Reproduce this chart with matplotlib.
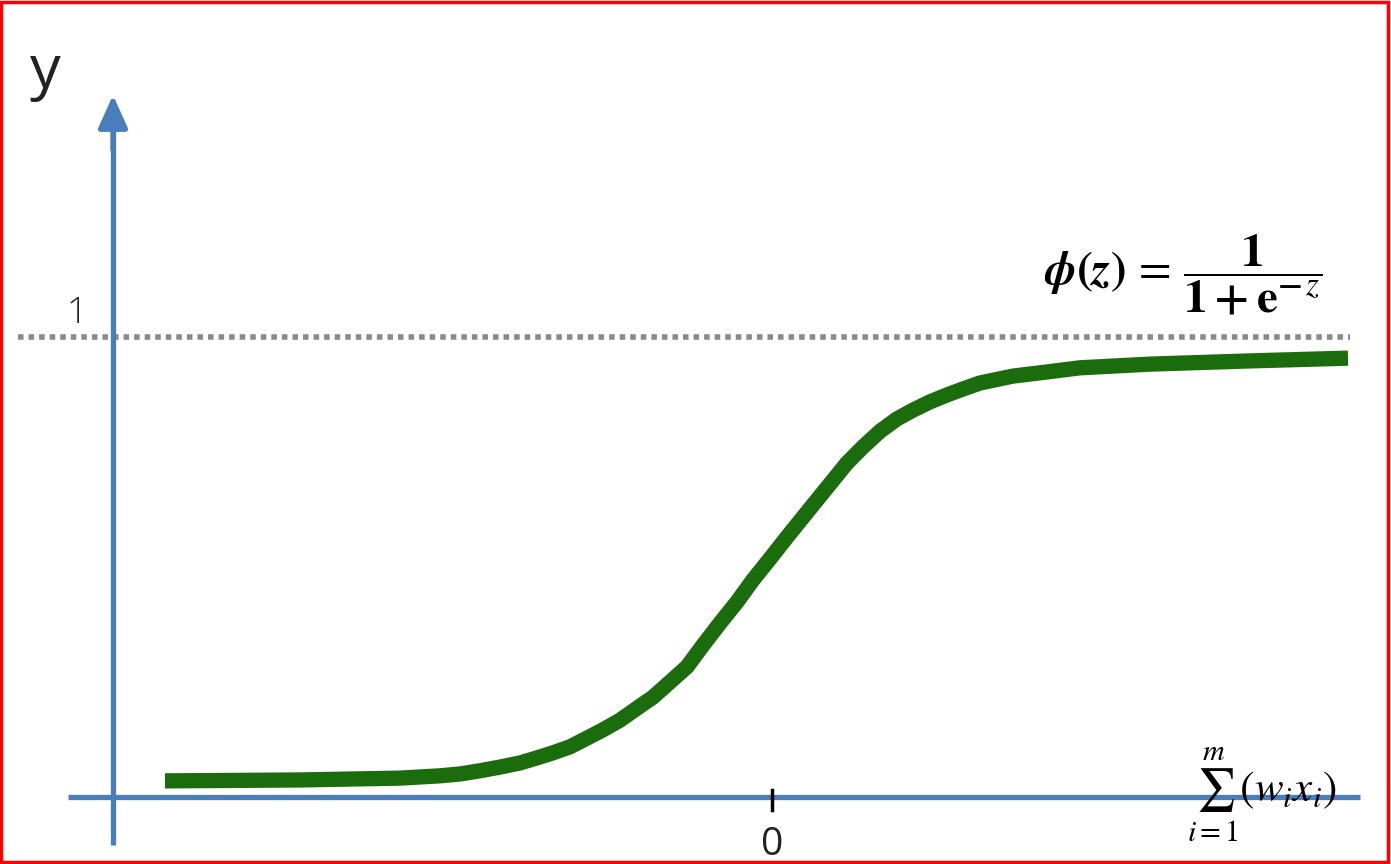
import matplotlib
matplotlib.use("Agg")
import matplotlib.pyplot as plt
from matplotlib.patches import Rectangle

# sigmoid-shaped curve (z units, phi value)
z_vals = [-6.07, -4.72, -3.72, -3.32, -3.12, -2.92, -2.72, -2.52, -2.35, -2.19, -2.02,
          -1.85, -1.69, -1.52, -1.35, -1.19, -1.02, -0.85, -0.69, -0.52, -0.35, -0.19,
          -0.02, 0.15, 0.41, 0.75, 0.91, 1.08, 1.25, 1.41, 1.58, 1.75, 1.91, 2.08, 2.41,
          2.75, 3.08, 3.78, 4.78, 5.76]
phi_vals = [0.035, 0.037, 0.041, 0.046, 0.050, 0.057, 0.065, 0.074, 0.085, 0.096, 0.109,
            0.128, 0.146, 0.167, 0.193, 0.217, 0.250, 0.283, 0.330, 0.378, 0.424, 0.472,
            0.518, 0.565, 0.635, 0.726, 0.761, 0.795, 0.822, 0.841, 0.859, 0.874, 0.887,
            0.900, 0.915, 0.924, 0.933, 0.941, 0.948, 0.954]
x_tick_labels = ["0"]
y_tick_labels = ["1"]

plt.rcParams['mathtext.fontset'] = 'stix'
fig = plt.figure(figsize=(13.91, 8.64), dpi=100)
ax = fig.add_axes([0, 0, 1, 1])
ax.set_xlim(-7.72, 6.19)
ax.set_ylim(-0.1457, 1.7326)
ax.axis('off')

blue = '#4a7ebb'
# dotted asymptote at 1
ax.plot([-7.54, 5.78], [1, 1], color='#8a8a8a', lw=4, linestyle=(0, (1, 0.9)), zorder=1)
# x axis
ax.plot([-7.04, 5.88], [0, 0], color=blue, lw=3.8, solid_capstyle='butt', zorder=2)
# y axis with arrow
ax.plot([-6.59, -6.59], [-0.104, 1.45], color=blue, lw=3.8, solid_capstyle='butt', zorder=2)
ax.annotate('', xy=(-6.59, 1.532), xytext=(-6.59, 1.40),
            arrowprops=dict(arrowstyle='-|>,head_length=1.0,head_width=0.45',
                            color=blue, lw=3.8, mutation_scale=20), zorder=3)
# tick at 0
ax.plot([0, 0], [-0.028, 0.016], color='black', lw=2.5, zorder=3)

# curve
ax.plot(z_vals, phi_vals, color='#1b6c0c', lw=11, solid_capstyle='butt',
        solid_joinstyle='round', zorder=4)

# labels
ax.text(0, -0.104, x_tick_labels[0], ha='center', va='center', fontsize=28,
        family='Open Sans', color='#222222')
ax.text(-6.95, 1.05, y_tick_labels[0], ha='center', va='center', fontsize=26,
        family='Open Sans', fontweight='light', color='#222222')
ax.text(-7.27, 1.575, 'y', ha='center', va='center', fontsize=44,
        family='Open Sans', color='#222222')

ax.text(4.11, 1.135,
        r'$\boldsymbol{\phi}\mathbf{(}\boldsymbol{z}\mathbf{)}\,=\,\dfrac{\mathbf{1}}{\mathbf{1+e^{-}}\boldsymbol{^{z}}}$',
        ha='center', va='center', fontsize=34, color='black')
ax.text(4.9, 0.005, r'$\sum_{i=1}^{m}(w_i x_i)$', ha='center', va='center',
        fontsize=31, color='black', zorder=5)

# red frame
fig.patches.append(Rectangle((0.001, 0.002), 0.997, 0.996, transform=fig.transFigure,
                             fill=False, edgecolor='#ff0000', lw=2.5))

fig.savefig('out.png', dpi=100, facecolor='white')
